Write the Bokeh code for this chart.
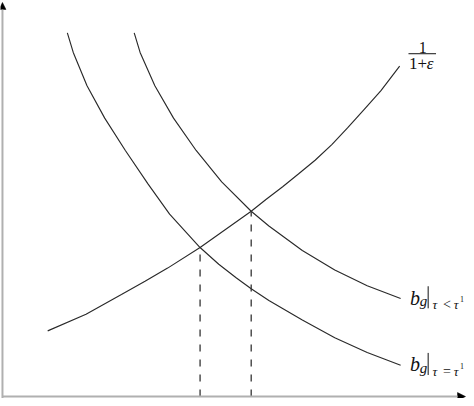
from bokeh.plotting import figure
from bokeh.models import Range1d, Arrow, NormalHead
from bokeh.core.properties import value
from bokeh.embed import file_html
from bokeh.resources import INLINE

# Curves (units: px from the axes' origin)
supply_x = [46, 85, 121, 145, 168, 201, 253, 268, 285, 301, 318, 335, 351, 368, 385, 404]
supply_y = [67, 84, 104, 117.5, 131, 152, 189, 201, 214, 227, 241, 257, 274, 293, 312, 337]

bg_eq_x = [66, 72, 86, 104, 125, 148, 170, 201, 220, 238, 253, 271, 305, 338, 371, 405]
bg_eq_y = [371, 351, 317, 284, 251, 217, 186, 152, 135, 121, 110, 98, 78, 60, 45, 32]

bg_lt_x = [134, 140, 155, 174, 197, 223, 253, 271, 305, 338, 371, 405]
bg_lt_y = [371, 351, 317, 284, 251, 219, 189, 174, 149, 129, 113, 100]

eq_x = [201, 253]
eq_y = [152, 189]

num_text = "1"
den_text = "1+"
eps_text = "ε"
b_text = "b"
g_text = "g"
sub_lt = ["τ", "<", "τ", "1"]
sub_eq = ["τ", "=", "τ", "1"]

SERIF = value("Liberation Serif")
INK = "#2a2a2a"

p = figure(width=466, height=398, x_range=Range1d(-2, 472), y_range=Range1d(-2, 404),
           output_backend="svg", toolbar_location=None,
           x_axis_location=None, y_axis_location=None,
           min_border=0, outline_line_color=None, background_fill_color="white")
p.grid.visible = False

# axes with arrows
p.add_layout(Arrow(end=NormalHead(size=8, fill_color="black", line_color="black", line_width=0.5),
                   x_start=0, y_start=0, x_end=471, y_end=0,
                   line_color="#b0b0b0", line_width=2))
p.add_layout(Arrow(end=NormalHead(size=7, fill_color="black", line_color="black", line_width=0.5),
                   x_start=0, y_start=-2, x_end=0, y_end=402,
                   line_color="#b0b0b0", line_width=2))

# curves
for xs, ys in [(supply_x, supply_y), (bg_eq_x, bg_eq_y), (bg_lt_x, bg_lt_y)]:
    p.line(xs, ys, line_color=INK, line_width=1.15)

# dashed drop lines
p.segment(x0=eq_x, y0=[0] * len(eq_x), x1=eq_x, y1=eq_y,
          line_color="#333333", line_width=1.3, line_dash="7 8")

LIFT = 4  # glyph baseline correction

def txt(x, y, s, size, style="normal", align="left"):
    p.text(x=[x], y=[y + LIFT], text=[s], text_font=SERIF, text_font_size=size,
           text_font_style=style, text_align=align, text_baseline="alphabetic",
           text_color="#111111")

# fraction label 1/(1+eps)
txt(427.5, 352, num_text, "16px", align="center")
p.segment(x0=[413], y0=[349.7], x1=[441], y1=[349.7], line_color="#111111", line_width=1)
txt(413.5, 335.7, den_text, "17px")
txt(431.5, 335.7, eps_text, "17px", style="italic")

# b_g labels
for dy, sub in [(0, sub_lt), (-68, sub_eq)]:
    txt(414.5, 97 + dy, b_text, "20px", style="italic")
    txt(424.5, 93 + dy, g_text, "15px", style="italic")
    p.segment(x0=[433], y0=[90 + dy], x1=[433], y1=[112.5 + dy], line_color="#111111", line_width=1)
    txt(437.5, 90 + dy, sub[0], "13px", style="italic")
    txt(448, 90 + dy, sub[1], "14px")
    txt(459, 90 + dy, sub[2], "13px", style="italic")
    txt(465.5, 95 + dy, sub[3], "8px")

open("out.html", "w").write(file_html(p, INLINE))
